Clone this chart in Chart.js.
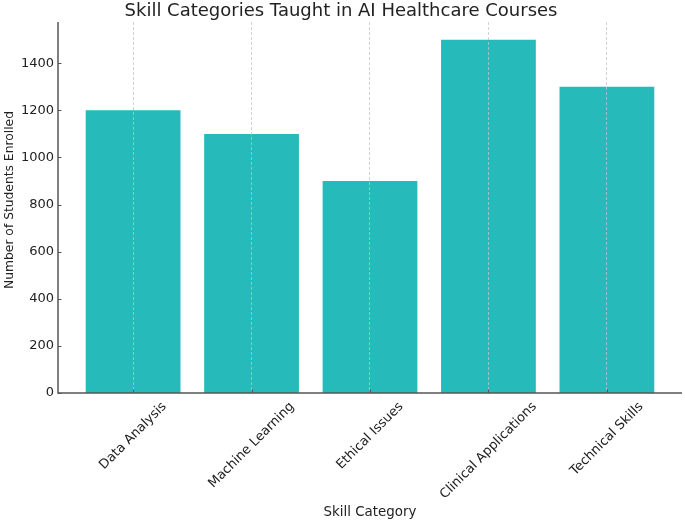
<!DOCTYPE html>
<html>
<head>
<meta charset="utf-8">
<script src="https://cdn.jsdelivr.net/npm/chart.js@4"></script>
<style>
  html, body { margin: 0; padding: 0; background: #fff; }
  #wrap { width: 685px; height: 522px; }
</style>
</head>
<body>
<div id="wrap"><canvas id="skillChart" width="685" height="522"></canvas></div>
<script>
const categories = ['Data Analysis', 'Machine Learning', 'Ethical Issues', 'Clinical Applications', 'Technical Skills'];
const enrolled = [1200, 1100, 900, 1500, 1300];
const yTicks = [0, 200, 400, 600, 800, 1000, 1200, 1400];

const FONT = '"DejaVu Sans", "Liberation Sans", sans-serif';
const TEXT = '#222';
const SPINE = '#555';

// rotated category labels, centred under each tick like the original
const xLabelPlugin = {
  id: 'xLabels',
  afterDraw(chart) {
    const ctx = chart.ctx;
    const xs = chart.scales.x;
    ctx.save();
    ctx.font = '13px ' + FONT;
    ctx.fillStyle = TEXT;
    ctx.textAlign = 'center';
    ctx.textBaseline = 'middle';
    categories.forEach((name, i) => {
      const w = ctx.measureText(name).width;
      const half = (w + 13) * Math.SQRT1_2 / 2;
      const x = xs.getPixelForValue(i);
      const y = chart.chartArea.bottom + 7 + half;
      ctx.save();
      ctx.translate(x, y);
      ctx.rotate(-Math.PI / 4);
      ctx.fillText(name, 0, 0);
      ctx.restore();
    });

    // y axis title
    ctx.font = '12.3px ' + FONT;
    ctx.save();
    ctx.translate(10, 200);
    ctx.rotate(-Math.PI / 2);
    ctx.fillText('Number of Students Enrolled', 0, 0);
    ctx.restore();
    ctx.restore();
  }
};

// small inward tick marks on both axes, solid spines
const tickPlugin = {
  id: 'inwardTicks',
  afterDraw(chart) {
    const ctx = chart.ctx;
    const area = chart.chartArea;
    ctx.save();
    ctx.strokeStyle = SPINE;
    ctx.lineWidth = 1;
    ctx.beginPath();
    categories.forEach((c, i) => {
      const x = Math.round(chart.scales.x.getPixelForValue(i)) + 0.5;
      ctx.moveTo(x, area.bottom);
      ctx.lineTo(x, area.bottom - 3.5);
    });
    yTicks.forEach(v => {
      const y = Math.round(chart.scales.y.getPixelForValue(v)) + 0.5;
      ctx.moveTo(area.left, y);
      ctx.lineTo(area.left + 3.5, y);
    });
    ctx.stroke();
    ctx.lineWidth = 1.5;
    ctx.beginPath();
    ctx.moveTo(area.left, area.top);
    ctx.lineTo(area.left, area.bottom);
    ctx.lineTo(area.right, area.bottom);
    ctx.stroke();
    ctx.restore();
  }
};

new Chart(document.getElementById('skillChart').getContext('2d'), {
  type: 'bar',
  data: {
    datasets: [{
      data: enrolled.map((v, i) => ({ x: i, y: v })),
      backgroundColor: '#26BABA',
      borderWidth: 0,
      barPercentage: 0.8,
      categoryPercentage: 1.0
    }]
  },
  options: {
    responsive: false,
    animation: false,
    devicePixelRatio: 1,
    layout: { padding: { left: 0, right: 3, top: 0, bottom: 0 } },
    plugins: {
      legend: { display: false },
      tooltip: { enabled: false },
      title: {
        display: true,
        text: 'Skill Categories Taught in AI Healthcare Courses',
        color: TEXT,
        font: { family: FONT, size: 18, weight: 'normal', lineHeight: 1.1 },
        padding: { top: 1, bottom: 1.2 }
      }
    },
    scales: {
      x: {
        type: 'linear',
        offset: false,
        min: -0.634,
        max: 4.634,
        afterBuildTicks: scale => {
          scale.ticks = categories.map((c, i) => ({ value: i }));
        },
        afterFit: scale => { scale.height = 129; },
        ticks: { display: false },
        grid: {
          display: true,
          offset: false,
          drawTicks: false,
          z: 1,
          color: 'rgba(195,195,195,0.75)',
          lineWidth: 1
        },
        border: { display: false, dash: [3, 2] },
        title: {
          display: true,
          text: 'Skill Category',
          color: TEXT,
          font: { family: FONT, size: 13.4, lineHeight: 1.2 },
          padding: { top: 0, bottom: 1 }
        }
      },
      y: {
        min: 0,
        max: 1575,
        afterBuildTicks: scale => {
          scale.ticks = yTicks.map(v => ({ value: v }));
        },
        afterFit: scale => { scale.width = 58; },
        ticks: {
          color: TEXT,
          padding: 4,
          font: { family: FONT, size: 13 },
          callback: v => String(v)
        },
        grid: { display: false, drawTicks: false },
        border: { display: false }
      }
    }
  },
  plugins: [xLabelPlugin, tickPlugin]
});
</script>
</body>
</html>
